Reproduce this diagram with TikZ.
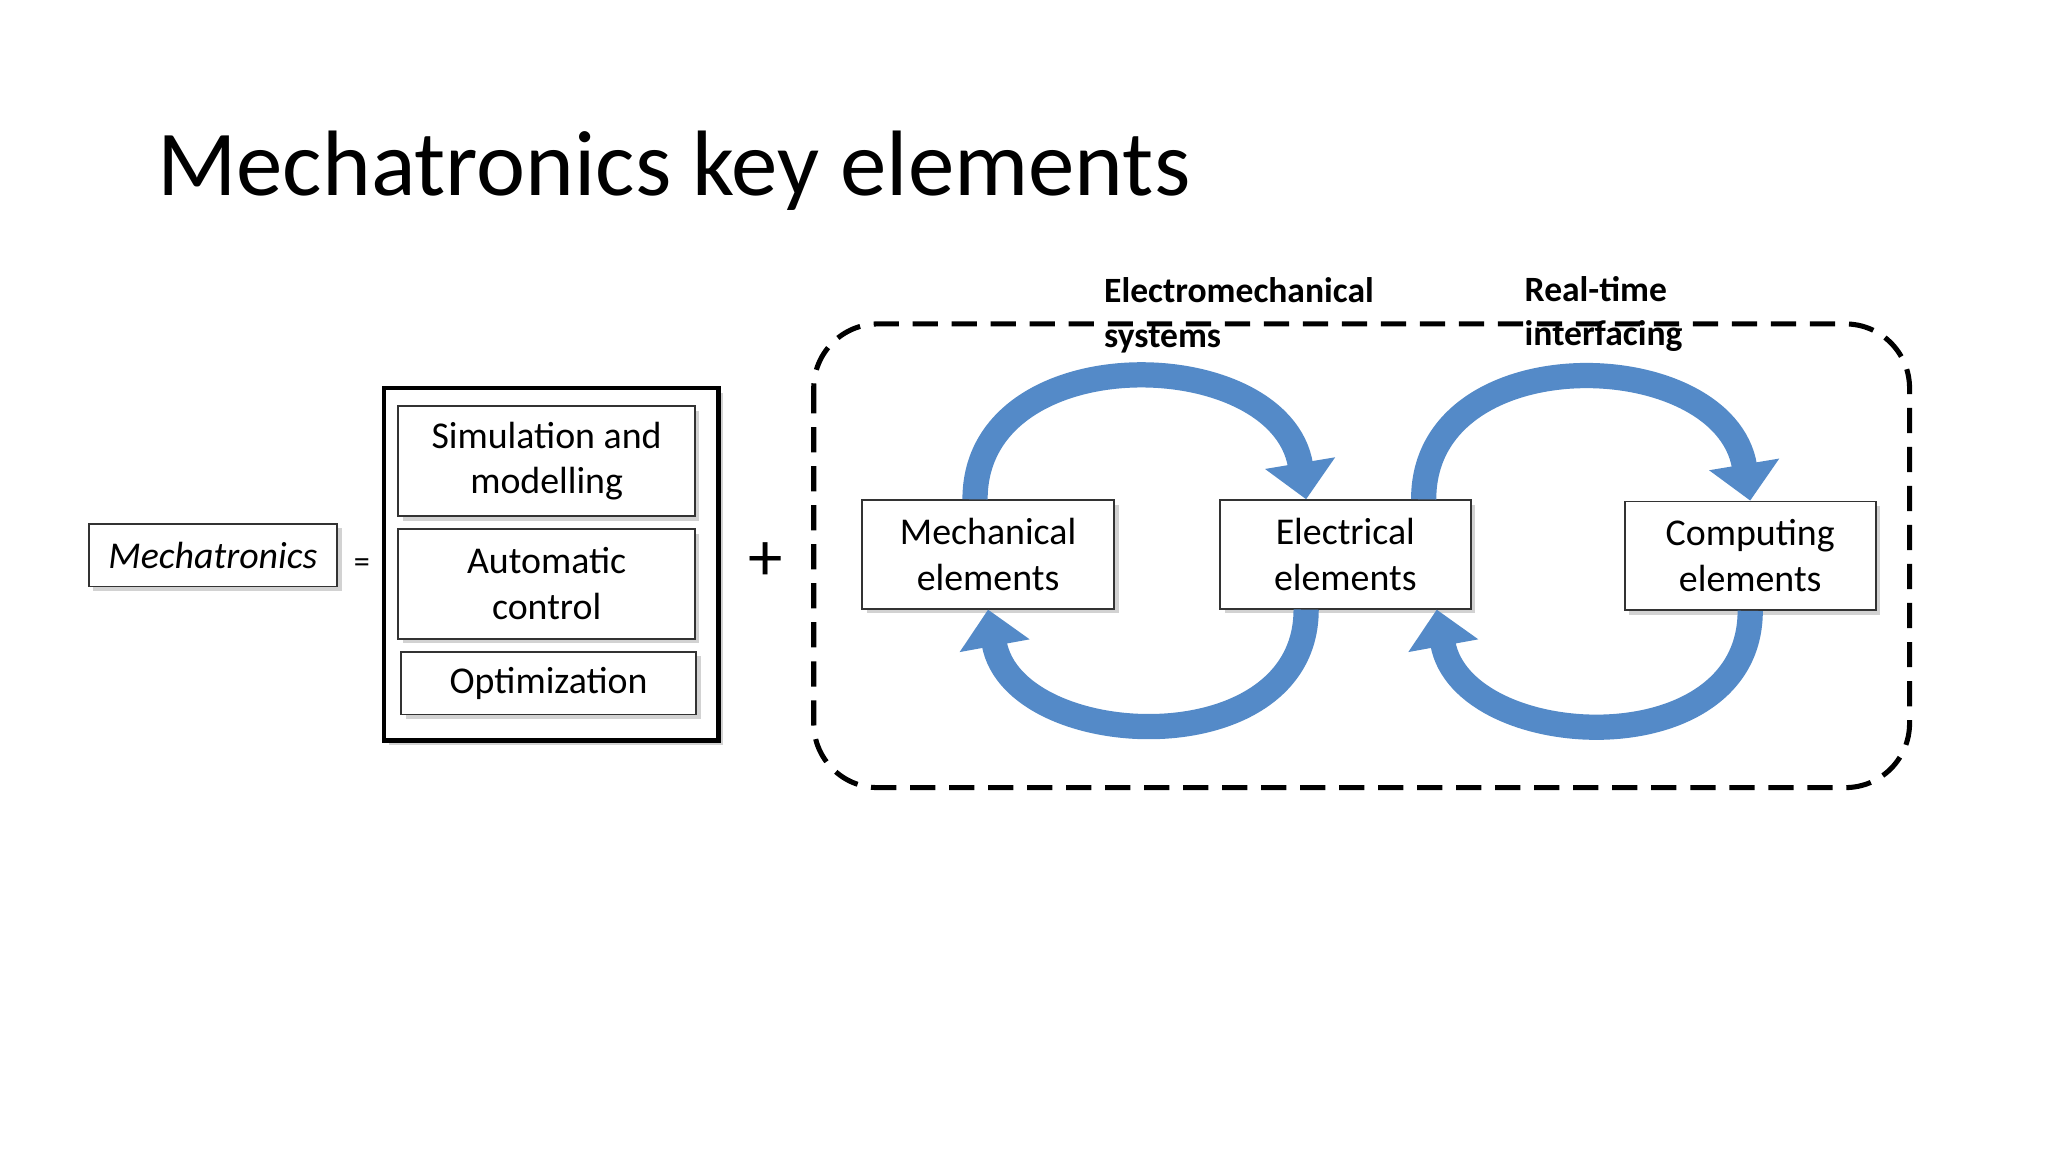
\documentclass[tikz,border=0pt]{standalone}
\usepackage{fontspec}
\setmainfont{Carlito}
\usetikzlibrary{arrows.meta,shadows}
\definecolor{arrblue}{RGB}{84,138,200}
\begin{document}
\begin{tikzpicture}[x=0.02cm,y=-0.02cm,
  box/.style={draw=black!80,fill=white,line width=0.8pt,align=center,font=\fontsize{16.5}{20}\selectfont,drop shadow={shadow xshift=2pt,shadow yshift=-2pt,opacity=0.35}},
  lab/.style={font=\fontsize{15.5}{19.5}\selectfont\bfseries,align=left,anchor=north west,inner sep=0pt},
  carr/.style={draw=arrblue,line width=11pt,-{Triangle[width=30pt,length=16pt]}}]
\useasboundingbox (0,0) rectangle (1568,882);
\fill[white] (0,0) rectangle (1568,882);
\node[anchor=base west,inner sep=0pt,font=\fontsize{40.5}{46}\selectfont] (title) at (120,150) {Mechatronics key elements};
\node[box,minimum width=190*0.02cm,minimum height=48*0.02cm] (mt) at (163,425) {\itshape Mechatronics};
\node[font=\fontsize{14}{16}\selectfont] (eq) at (277,433) {=};
\node[draw,line width=2pt,minimum width=256*0.02cm,minimum height=270*0.02cm,drop shadow={shadow xshift=2pt,shadow yshift=-2pt,opacity=0.35},fill=white] (big) at (422,432) {};
\node[box,minimum width=227*0.02cm,minimum height=84*0.02cm] (sim) at (418.5,353) {Simulation and\\modelling};
\node[box,minimum width=227*0.02cm,minimum height=84*0.02cm] (ac) at (418.5,447) {Automatic\\control};
\node[box,minimum width=226*0.02cm,minimum height=48*0.02cm] (opt) at (420,523) {Optimization};
\node[font=\fontsize{30}{30}\selectfont] (plus) at (586,430) {+};
\draw[line width=2.2pt,dash pattern=on 11pt off 6pt,rounded corners=28pt] (623,248) rectangle (1462,603);
\node[box,minimum width=193*0.02cm,minimum height=83*0.02cm] (mech) at (756.5,424.5) {Mechanical\\elements};
\node[box,minimum width=192*0.02cm,minimum height=83*0.02cm] (elec) at (1030,424.5) {Electrical\\elements};
\node[box,minimum width=192*0.02cm,minimum height=83*0.02cm] (comp) at (1340,425.5) {Computing\\elements};
\node[lab] (l1) at (845,212) {Electromechanical\\systems};
\node[lab] (l2) at (1167,211) {Real-time\\interfacing};
\draw[carr] ([xshift=-0.2cm]mech.north) .. controls +(0,-125) and +(-20,-120) .. ([xshift=-0.6cm]elec.north);
\draw[carr] ([xshift=-0.6cm]elec.south) .. controls +(0,120) and +(20,110) .. ([xshift=0cm]mech.south);
\draw[carr] ([xshift=1.2cm]elec.north) .. controls +(0,-125) and +(-20,-120) .. ([xshift=0cm]comp.north);
\draw[carr] ([xshift=0cm]comp.south) .. controls +(0,120) and +(20,110) .. ([xshift=1.4cm]elec.south);
\end{tikzpicture}
\end{document}
